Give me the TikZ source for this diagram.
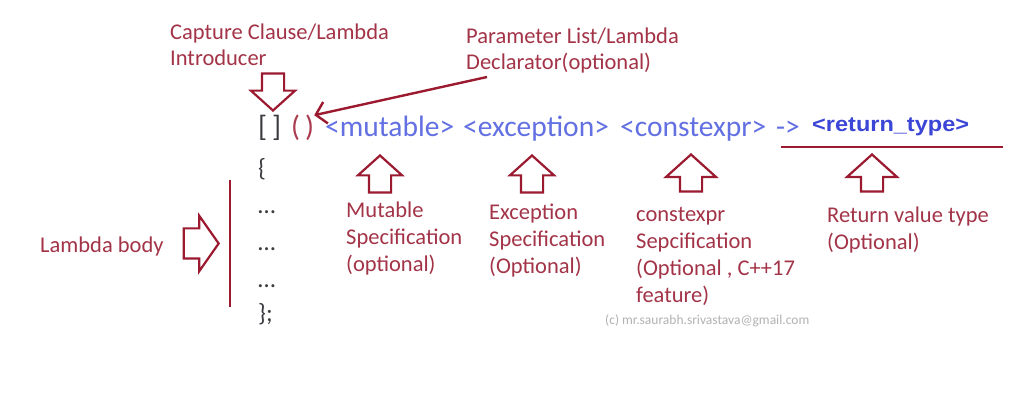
\documentclass[tikz,border=0pt]{standalone}
\usepackage{fontspec}
\setmainfont{Carlito}
\newfontfamily\retfont[FakeStretch=1.12]{Liberation Sans Bold}
\usetikzlibrary{arrows.meta,shapes.arrows,positioning}
\definecolor{lbRed}{HTML}{A33448}
\definecolor{lbMaroon}{HTML}{9C1A30}
\definecolor{lbBlue}{HTML}{6370E2}
\definecolor{lbDeep}{HTML}{3C46D6}
\definecolor{lbInk}{HTML}{3A3A40}
\tikzset{
  lbl/.style={text=lbRed, font=\fontsize{22.5}{27}\selectfont, inner sep=0pt, align=left},
  toplbl/.style={lbl, font=\fontsize{22.5}{25.5}\selectfont},
  codetok/.style={text=lbBlue, font=\fontsize{29.5}{32}\selectfont, inner sep=0pt},
  bodytok/.style={text=lbInk, font=\fontsize{25}{30}\selectfont, inner sep=0pt},
  hollow/.style={single arrow, draw=lbMaroon, line width=2.2pt, fill=white,
                 inner xsep=0pt, inner ysep=10pt, minimum height=37pt,
                 single arrow head extend=11pt, single arrow tip angle=96, anchor=tip},
  marker/.style={draw=lbMaroon, line width=2.4pt},
}

\begin{document}
\begin{tikzpicture}[x=1pt,y=-1pt]
  \useasboundingbox[fill=white] (0,0) rectangle (1028,411);

  % top labels (anchored at the last baseline)
  \node[toplbl, anchor=base west] (capturelbl) at (170,65.5)
    {Capture Clause/Lambda\\Introducer};
  \node[toplbl, anchor=base west] (paramlbl) at (466,69.5)
    {Parameter List/Lambda\\Declarator(optional)};

  % the lambda line
  \node[codetok, text=lbInk, anchor=base west] (capture) at (258,137) {[\,]};
  \node[codetok, text=lbMaroon!85, anchor=base west] (paren) at (291,137) {(\,)};
  \node[codetok, anchor=base west] (mutable) at (325,137) {<mutable>};
  \node[codetok, anchor=base west] (exception) at (463,137) {<exception>};
  \node[codetok, anchor=base west] (constexpr) at (620,137) {<constexpr>};
  \node[codetok, anchor=base west] (arrowtok) at (776,137) {->};
  \node[text=lbDeep, font=\retfont\fontsize{21}{24}\selectfont,
        inner sep=0pt, anchor=base west] (rettype) at (812,132) {<return\_type>};
  \coordinate (retL) at (781,147);
  \coordinate (retR) at (1003,147);
  \draw[marker] (retL) -- (retR);

  % body lines
  \node[bodytok, anchor=base west] (lbrace) at (258,177) {\{};
  \foreach \y/\n in {214/1,251/2,288/3}
    \node[bodytok, anchor=base west] (dots\n) at (258,\y) {…};
  \node[bodytok, anchor=base west] (rbrace) at (258,322) {\};};

  % hollow block arrows (placed by their tips)
  \node[hollow, rotate=-90] (capturearr) at (273,112) {};
  \node[hollow, rotate=90] (mutarr) at (380,154) {};
  \node[hollow, rotate=90] (exarr) at (532,154) {};
  \node[hollow, rotate=90, single arrow head extend=14pt] (cexarr) at (691,153) {};
  \node[hollow, rotate=90, single arrow head extend=14pt] (retarr) at (872,153) {};
  \node[hollow, inner ysep=14pt, minimum height=35pt, single arrow head extend=12.5pt,
        single arrow tip angle=110] (bodyarr) at (220,243.5) {};

  % body bar
  \coordinate (barT) at (230,180);
  \coordinate (barB) at (230,307);
  \draw[marker] (barT) -- (barB);

  % declarator pointer
  \coordinate (paramtail) at (487,77);
  \draw[marker, -{Straight Barb[length=10pt,width=22pt,line width=2.4pt]}]
    (paramtail) -- (paren.north east);

  % bottom labels (anchored at the last baseline)
  \node[lbl, anchor=base west] (bodylbl) at (40,253) {Lambda body};
  \node[lbl, anchor=base west] (mutlbl) at (346,272)
    {Mutable\\Specification\\(optional)};
  \node[lbl, anchor=base west] (exlbl) at (489,274)
    {Exception\\Specification\\(Optional)};
  \node[lbl, anchor=base west] (cexlbl) at (636,303)
    {constexpr\\Sepcification\\(Optional , C++17\\feature)};
  \node[lbl, anchor=base west] (retlbl) at (827,250)
    {Return value type\\(Optional)};

  \node[text=black!30, font=\fontsize{13.5}{15}\selectfont, inner sep=0pt,
        anchor=base west] (credit) at (605,325) {(c) mr.saurabh.srivastava@gmail.com};
\end{tikzpicture}
\end{document}
